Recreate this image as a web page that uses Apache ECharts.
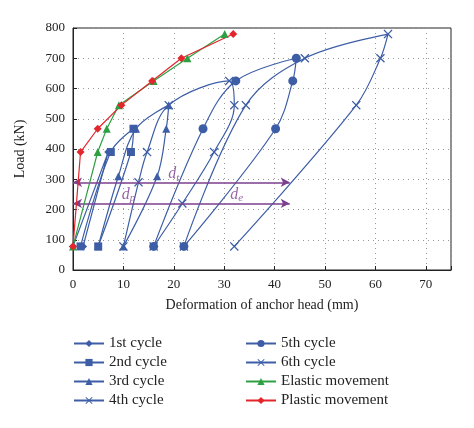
<!DOCTYPE html>
<html><head><meta charset="utf-8">
<script src="https://cdn.jsdelivr.net/npm/echarts@6/dist/echarts.min.js"></script>
<style>html,body{margin:0;padding:0;background:#fff}#c{width:474px;height:428px}</style>
</head><body><div id="c"></div>
<script>
const seriesNames = ['1st cycle','2nd cycle','3rd cycle','4th cycle','5th cycle','6th cycle','Elastic movement','Plastic movement'];
const cycle1 = [[0,78],[7,390],[2,78]];
const cycle2 = [[1.5,78],[7.5,390],[12,467],[11.5,390],[5,78]];
const cycle3 = [[5,78],[9,310],[12.5,467],[19,545],[18.5,467],[16.7,310],[10,78]];
const cycle4 = [[10,78],[13,290],[14.7,390],[19,545],[31,625],[32,545],[28,390],[21.7,220],[16,78]];
const cycle5 = [[16,78],[25.8,467],[32.3,625],[44.3,700],[43.6,625],[40.2,467],[22,78]];
const cycle6 = [[22,78],[34.3,545],[46,700],[62.5,780],[61,700],[56.2,545],[32,78]];
const elastic = [[0,78],[4.9,390],[6.7,467],[9.1,545],[16,625],[22.7,700],[30.1,780]];
const plastic = [[0,78],[1.5,390],[4.9,467],[9.6,545],[15.7,625],[21.5,700],[31.8,780]];
const arrowLines = [[[0,290],[43,290]],[[0,220],[43,220]]];
const arrowLabels = [['d','t',[20,318]],['d','p',[11,250]],['d','e',[32.5,250]]];
const xTicks = [0,10,20,30,40,50,60,70];

const blue = '#3d5ea6', green = '#2ea043', red = '#e3262b', purple = '#7d3f8e';
const xSym = 'path://M0,1L1,0L5,4L9,0L10,1L6,5L10,9L9,10L5,6L1,10L0,9L4,5Z';
const datasets = [cycle1,cycle2,cycle3,cycle4,cycle5,cycle6,elastic,plastic];
const symbols = ['diamond','rect','triangle',xSym,'circle',xSym,'triangle','diamond'];
const sizes = [8,8,8,9,9,9,8,8];
const colors = [blue,blue,blue,blue,blue,blue,green,red];
const ser = datasets.map((d,i)=>({
  name: seriesNames[i], type:'line', data:d, smooth: i<6 ? 0.35 : false,
  symbol: symbols[i], symbolSize: sizes[i], showAllSymbol:true,
  lineStyle:{color:colors[i], width:1.2}, itemStyle:{color:colors[i]}, z: i>=6?5:3
}));
ser.push({
  type:'line', data:[], name:'arrows',
  markLine:{silent:true, symbol:['arrow','arrow'], symbolSize:[7,9],
    lineStyle:{color:purple,width:1.6,type:'solid'}, label:{show:false},
    data: arrowLines.map(l=>[{coord:l[0]},{coord:l[1]}])}
});
ser.push({
  type:'scatter', symbolSize:0, data: arrowLabels.map(a=>({value:a[2], name:a[0]+'|'+a[1]})),
  label:{show:true, position:'inside', formatter:p=>{const s=p.name.split('|');return '{m|'+s[0]+'}{s|'+s[1]+'}';},
    rich:{m:{fontFamily:'Liberation Serif',fontStyle:'italic',fontSize:16,color:purple},
          s:{fontFamily:'Liberation Serif',fontStyle:'italic',fontSize:11,color:purple,verticalAlign:'bottom',padding:[8,0,0,0]}}},
  z:6
});
const lg = {orient:'vertical', itemWidth:30, itemHeight:9, itemGap:4,
  textStyle:{fontFamily:'Liberation Serif', fontSize:15, color:'#222'}};
const chart = echarts.init(document.getElementById('c'));
chart.setOption({
  animation:false,
  textStyle:{fontFamily:'Liberation Serif'},
  grid:{left:73, right:23, top:28, bottom:158},
  xAxis:{type:'value', min:0, max:75, interval:10, name:'Deformation of anchor head (mm)',
    nameLocation:'middle', nameGap:28, nameTextStyle:{fontSize:14,color:'#222'},
    axisLine:{lineStyle:{color:'#222'}}, axisTick:{inside:true,length:4,lineStyle:{color:'#222'}},
    axisLabel:{fontSize:13,color:'#222',formatter:v=>xTicks.includes(v)?v:''},
    splitLine:{show:true,lineStyle:{color:'#999',type:[1,4]}}},
  yAxis:{type:'value', min:0, max:800, interval:100, name:'Load (kN)', nameLocation:'middle', nameGap:46,
    nameTextStyle:{fontSize:14,color:'#222'},
    axisLine:{show:true,lineStyle:{color:'#222'}}, axisTick:{inside:true,length:4,lineStyle:{color:'#222'}},
    axisLabel:{fontSize:13,color:'#222'},
    splitLine:{show:true,lineStyle:{color:'#999',type:[1,4]}}},
  legend:[
    Object.assign({left:68, top:331, data:seriesNames.slice(0,4)}, lg),
    Object.assign({left:240, top:331, data:seriesNames.slice(4)}, lg)
  ],
  graphic:[{type:'rect', shape:{x:73,y:28,width:378,height:242}, style:{fill:'none',stroke:'#222',lineWidth:1}, silent:true}],
  series: ser
});
</script></body></html>
